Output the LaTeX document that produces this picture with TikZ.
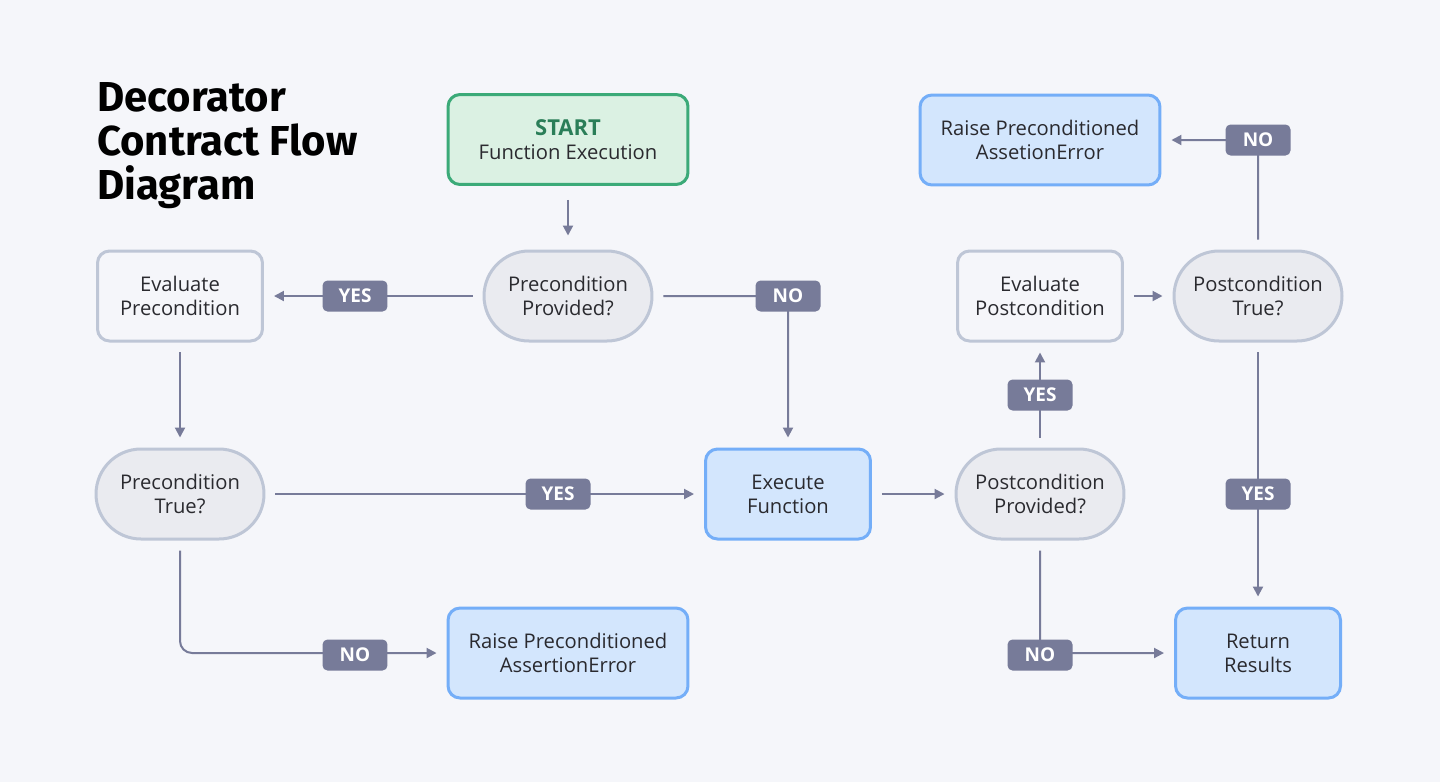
\documentclass[tikz,border=0pt]{standalone}
\usepackage{fontspec}
\setmainfont{Open Sans}
\newfontfamily\titlefont{Fira Sans}
\usetikzlibrary{arrows.meta}

\definecolor{pagebg}{HTML}{F5F6FA}
\definecolor{ink}{HTML}{2A2A2F}
\definecolor{edgegray}{HTML}{BEC6D6}
\definecolor{decfill}{HTML}{EAEBF0}
\definecolor{actfill}{HTML}{D3E6FD}
\definecolor{actedge}{HTML}{74AEF8}
\definecolor{startfill}{HTML}{DBF1E3}
\definecolor{startedge}{HTML}{3BAA78}
\definecolor{startink}{HTML}{2A7E58}
\definecolor{wire}{HTML}{777B99}

\tikzset{
  box/.style={draw=edgegray, fill=pagebg, line width=0.06cm, rounded corners=0.24cm,
    minimum width=3.3cm, minimum height=1.8cm, align=center, text=ink,
    font=\fontsize{11.5}{13.6}\selectfont},
  decision/.style={box, fill=decfill, rounded corners=0.9cm, minimum width=3.36cm},
  action/.style={box, fill=actfill, draw=actedge},
  widebox/.style={minimum width=4.8cm},
  startbox/.style={box, widebox, fill=startfill, draw=startedge},
  flow/.style={draw=wire, line width=0.04cm, -{Triangle[length=0.2cm,width=0.2cm]},
    shorten <=0.2cm, shorten >=0.2cm, rounded corners=0.24cm},
  tag/.style={fill=wire, text=white, rounded corners=0.1cm, inner sep=0pt,
    minimum width=1.3cm, minimum height=0.62cm,
    font=\fontsize{10.8}{12}\selectfont\bfseries}
}

\begin{document}
\begin{tikzpicture}[x=0.02cm, y=-0.02cm]
	%%%%% START %%%%%
	\fill[pagebg] (0,0) rectangle (1440,782);
	\useasboundingbox (0,0) rectangle (1440,782);

	\node[anchor=north west, inner sep=0pt, align=left, text=black,
	  font=\fontsize{23.8}{25}\titlefont\bfseries] (title) at (97,82)
	  {Decorator\\Contract Flow\\Diagram};

	\node[startbox] (start) at (568,139.5)
	  {{\fontsize{12.5}{13.6}\selectfont\bfseries\color{startink}START}\\Function Execution};

	\node[box] (evpre) at (180,296) {Evaluate\\Precondition};
	\node[decision] (prov) at (568,296) {Precondition\\Provided?};
	\node[decision] (pretrue) at (180,494) {Precondition\\True?};
	\node[action] (exec) at (788,494) {Execute\\Function};
	\node[action, widebox] (preerr) at (568,653) {Raise Preconditioned\\AssertionError};

	\node[decision] (postprov) at (1040,494) {Postcondition\\Provided?};
	\node[box] (evpost) at (1040,296) {Evaluate\\Postcondition};
	\node[decision] (posttrue) at (1258,296) {Postcondition\\True?};
	\node[action, widebox] (posterr) at (1040,140) {Raise Preconditioned\\AssetionError};
	\node[action] (result) at (1258,653) {Return\\Results};

	% connectors
	\draw[flow, shorten <=0.28cm, shorten >=0.28cm] (start) -- (prov);
	\draw[flow] (prov) -- (evpre);
	\draw[flow] (prov.east) -| (exec.north);
	\draw[flow] (evpre) -- (pretrue);
	\draw[flow] (pretrue) -- (exec);
	\draw[flow] (pretrue.south) |- (preerr.west);
	\draw[flow] (exec) -- (postprov);
	\draw[flow] (postprov) -- (evpost);
	\draw[flow] (postprov.south) |- (result.west);
	\draw[flow] (evpost) -- (posttrue);
	\draw[flow] (posttrue.north) |- (posterr.east);
	\draw[flow] (posttrue) -- (result);

	% labels
	\node[tag] (yes1) at (355,296) {YES};
	\node[tag] (no1) at (788,296) {NO};
	\node[tag] (yes2) at (558,494) {YES};
	\node[tag] (no2) at (355,655) {NO};
	\node[tag] (yes3) at (1040,395) {YES};
	\node[tag] (no3) at (1040,655) {NO};
	\node[tag] (no4) at (1258,140) {NO};
	\node[tag] (yes4) at (1258,494) {YES};
	%%%%% END %%%%%
\end{tikzpicture}
\end{document}
